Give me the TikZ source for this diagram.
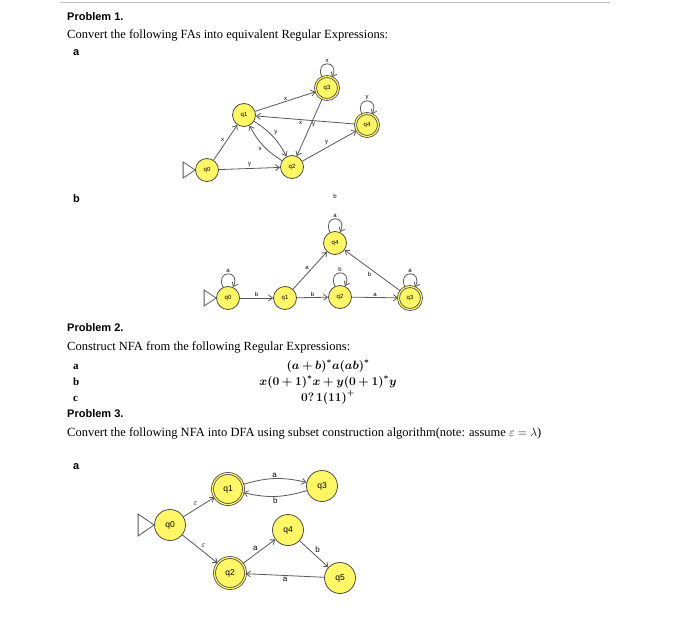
\documentclass[tikz,border=0pt]{standalone}
\usepackage{amsmath,amssymb}
\usepackage{bm}
\usepackage{fontspec}
\setmainfont{Liberation Serif}
\newfontfamily\hv{Liberation Sans}
\usetikzlibrary{arrows.meta}
\begin{document}
\begin{tikzpicture}[x=1pt,y=-1pt,
 st/.style={circle,draw=black!70,fill=yellow!60,line width=0.8pt,minimum size=23pt,inner sep=0pt,font=\hv\fontsize{6}{6}\selectfont},
 stc/.style={st,minimum size=31pt,font=\hv\fontsize{8.5}{8.5}\selectfont},
 fin/.style={double=yellow!60,double distance=1.2pt},
 tr/.style={draw=black!65,line width=0.8pt,-{Straight Barb[length=4pt,width=6pt]}},
 lb/.style={font=\hv\fontsize{6}{6}\selectfont,inner sep=1pt},
 lbc/.style={font=\hv\fontsize{8}{8}\selectfont,inner sep=1pt},
 head/.style={anchor=base west,font=\hv\bfseries\fontsize{11}{12}\selectfont,inner sep=0},
 body/.style={anchor=base west,font=\fontsize{12.5}{13}\selectfont,inner sep=0},
 lp/.style={tr,looseness=5,in=65,out=115}]
\useasboundingbox (0,0) rectangle (700,639);
\fill[white] (0,0) rectangle (700,639);
\draw[black!25] (60,2) -- (610,2);
\node[head] (p1) at (67,21) {Problem 1.};
\node[body] (t1) at (67,39) {Convert the following FAs into equivalent Regular Expressions:};
\node[head] (la) at (73,56) {a};
% graph a
\node[st] (a0) at (207,170) {q0};
\node[st] (a1) at (244,115) {q1};
\node[st] (a2) at (292,167) {q2};
\node[st,fin] (a3) at (327,88) {q3};
\node[st,fin] (a4) at (367,125) {q4};
\draw[black!65,line width=0.8pt] (a0.west) -- ++(-12,-8) -- ++(0,16) -- cycle;
\draw[tr] (a0) -- node[lb,above left]{x} (a1);
\draw[tr] (a0) -- node[lb,above]{y} (a2);
\draw[tr] (a1) -- node[lb,above]{x} (a3);
\draw[tr] (a1) to[bend left=15] node[lb,above right]{y} (a2);
\draw[tr] (a2) to[bend left=15] node[lb,below left]{x} (a1);
\draw[tr] (a4) -- node[lb,below,pos=0.55]{x} (a1);
\draw[tr] (a3) -- node[lb,right,pos=0.45]{y} (a2);
\draw[tr] (a2) -- node[lb,above left]{y} (a4);
\draw[tr] (a3) to[lp] node[lb,above]{x} (a3);
\draw[tr] (a4) to[lp] node[lb,above]{y} (a4);
% graph b
\node[head] (lbb) at (73,202) {b};
\node[st] (b0) at (228,298) {q0};
\node[st] (b1) at (285,298) {q1};
\node[st] (b2) at (340,297) {q2};
\node[st,fin] (b3) at (410,298) {q3};
\node[st] (b4) at (335,243) {q4};
\draw[black!65,line width=0.8pt] (b0.west) -- ++(-12,-8) -- ++(0,16) -- cycle;
\draw[tr] (b0) -- node[lb,above]{b} (b1);
\draw[tr] (b1) -- node[lb,above]{b} (b2);
\draw[tr] (b1) -- node[lb,above left]{a} (b4);
\draw[tr] (b2) -- node[lb,above]{a} (b3);
\draw[tr] (b3) -- node[lb,below left]{b} (b4);
\draw[tr] (b0) to[lp] node[lb,above]{a} (b0);
\draw[tr] (b2) to[lp] node[lb,above]{b} (b2);
\draw[tr] (b3) to[lp] node[lb,above]{a} (b3);
\draw[tr] (b4) to[lp] node[lb,above] (b4a){a} (b4);
\node[lb] (b4b) at (335,196) {b};
% problem 2
\node[head] (p2) at (67,331) {Problem 2.};
\node[body] (t2) at (67,350) {Construct NFA from the following Regular Expressions:};
\node[head,font=\bfseries\fontsize{11}{12}\selectfont] (ra) at (73,369) {a};
\node[head,font=\bfseries\fontsize{11}{12}\selectfont] (rb) at (73,385) {b};
\node[head,font=\bfseries\fontsize{11}{12}\selectfont] (rc) at (73,401) {c};
\node[anchor=base,font=\fontsize{12}{12}\selectfont,inner sep=0] (ea) at (328,369) {$\bm{(a+b)^{*}a(ab)^{*}}$};
\node[anchor=base,font=\fontsize{12}{12}\selectfont,inner sep=0] (eb) at (328,385) {$\bm{x(0+1)^{*}x+y(0+1)^{*}y}$};
\node[anchor=base,font=\fontsize{12}{12}\selectfont,inner sep=0] (ec) at (328,401) {$\bm{0?\,1(11)^{+}}$};
\node[head] (p3) at (67,417) {Problem 3.};
\node[body] (t3) at (67,436) {Convert the following NFA into DFA using subset construction algorithm(note: assume $\varepsilon=\lambda$)};
\node[head] (lc) at (73,469) {a};
% graph c
\node[stc] (c0) at (170,525) {q0};
\node[stc,fin] (c1) at (228,489) {q1};
\node[stc] (c3) at (322,486) {q3};
\node[stc] (c4) at (288,530) {q4};
\node[stc,fin] (c2) at (230,573) {q2};
\node[stc] (c5) at (340,578) {q5};
\draw[black!65,line width=0.8pt] (c0.west) -- ++(-16,-11) -- ++(0,22) -- cycle;
\draw[tr] (c0) -- node[lbc,above left]{$\varepsilon$} (c1);
\draw[tr] (c0) -- node[lbc,above right]{$\varepsilon$} (c2);
\draw[tr] (c1) to[bend left=15] node[lbc,above]{a} (c3);
\draw[tr] (c3) to[bend left=15] node[lbc,below]{b} (c1);
\draw[tr] (c2) -- node[lbc,above left]{a} (c4);
\draw[tr] (c4) -- node[lbc,above right]{b} (c5);
\draw[tr] (c5) -- node[lbc,below]{a} (c2);
\end{tikzpicture}
\end{document}
